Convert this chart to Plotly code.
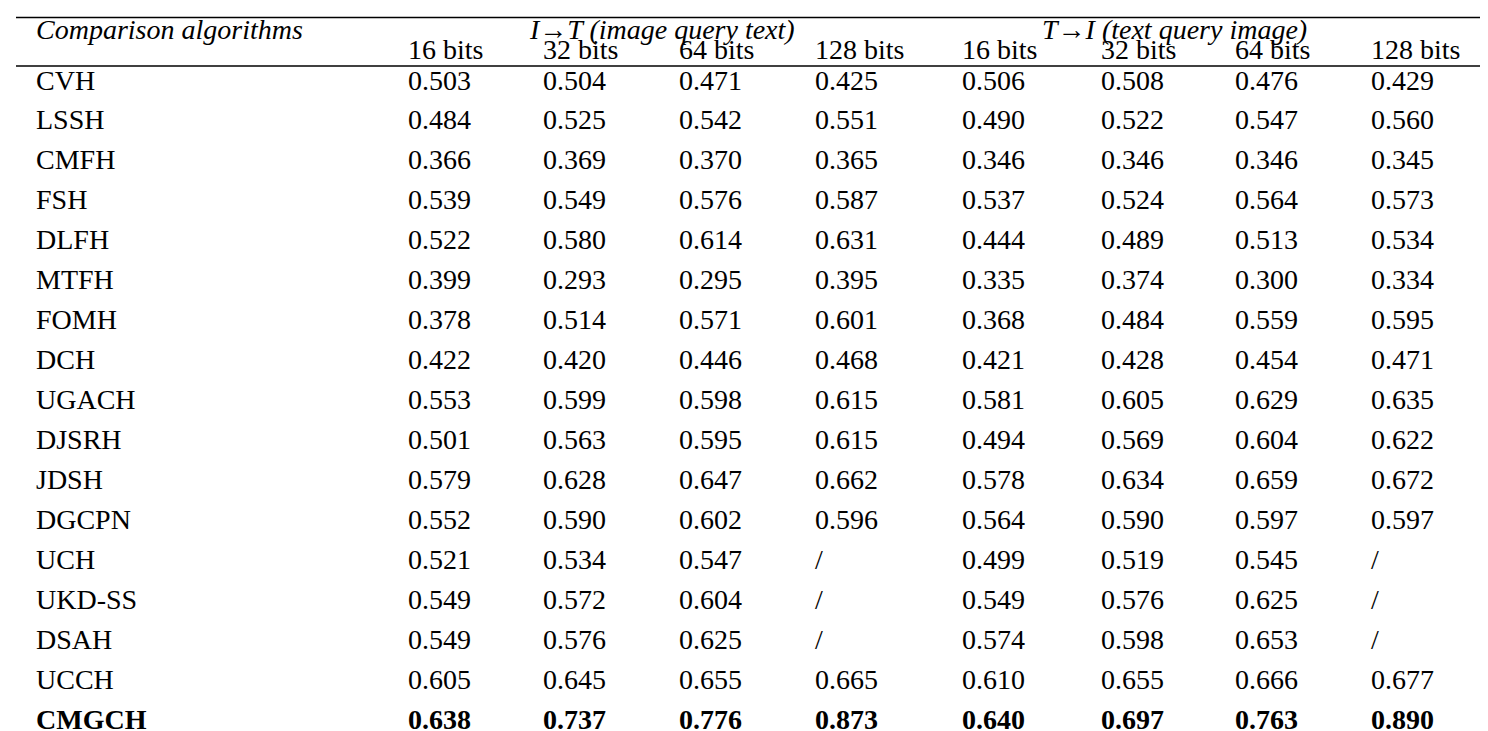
import plotly.graph_objects as go

# Table data
methods = ["CVH", "LSSH", "CMFH", "FSH", "DLFH", "MTFH", "FOMH", "DCH", "UGACH",
           "DJSRH", "JDSH", "DGCPN", "UCH", "UKD-SS", "DSAH", "UCCH", "CMGCH"]
bits = ["16 bits", "32 bits", "64 bits", "128 bits"]
i2t = [
    ["0.503", "0.504", "0.471", "0.425"],
    ["0.484", "0.525", "0.542", "0.551"],
    ["0.366", "0.369", "0.370", "0.365"],
    ["0.539", "0.549", "0.576", "0.587"],
    ["0.522", "0.580", "0.614", "0.631"],
    ["0.399", "0.293", "0.295", "0.395"],
    ["0.378", "0.514", "0.571", "0.601"],
    ["0.422", "0.420", "0.446", "0.468"],
    ["0.553", "0.599", "0.598", "0.615"],
    ["0.501", "0.563", "0.595", "0.615"],
    ["0.579", "0.628", "0.647", "0.662"],
    ["0.552", "0.590", "0.602", "0.596"],
    ["0.521", "0.534", "0.547", "/"],
    ["0.549", "0.572", "0.604", "/"],
    ["0.549", "0.576", "0.625", "/"],
    ["0.605", "0.645", "0.655", "0.665"],
    ["0.638", "0.737", "0.776", "0.873"],
]
t2i = [
    ["0.506", "0.508", "0.476", "0.429"],
    ["0.490", "0.522", "0.547", "0.560"],
    ["0.346", "0.346", "0.346", "0.345"],
    ["0.537", "0.524", "0.564", "0.573"],
    ["0.444", "0.489", "0.513", "0.534"],
    ["0.335", "0.374", "0.300", "0.334"],
    ["0.368", "0.484", "0.559", "0.595"],
    ["0.421", "0.428", "0.454", "0.471"],
    ["0.581", "0.605", "0.629", "0.635"],
    ["0.494", "0.569", "0.604", "0.622"],
    ["0.578", "0.634", "0.659", "0.672"],
    ["0.564", "0.590", "0.597", "0.597"],
    ["0.499", "0.519", "0.545", "/"],
    ["0.549", "0.576", "0.625", "/"],
    ["0.574", "0.598", "0.653", "/"],
    ["0.610", "0.655", "0.666", "0.677"],
    ["0.640", "0.697", "0.763", "0.890"],
]

FONT = "Liberation Serif"
SIZE = 28
col_x = [390, 525, 661, 797, 944, 1083, 1217, 1353]
row_y0, row_step = 64, 39.94

fig = go.Figure()
ann = []

def cell(x, y, text, bold=False, italic=False, anchor="left"):
    if bold:
        text = "<b>" + text + "</b>"
    if italic:
        text = "<i>" + text + "</i>"
    ann.append(dict(x=x, y=y, text=text, showarrow=False, xanchor=anchor, yanchor="middle",
                    font=dict(family=FONT, size=SIZE, color="black")))

# headers
cell(18, 13, "Comparison algorithms", italic=True)
cell(646, 13, "I→T (image query text)", italic=True, anchor="center")
cell(1158, 13, "T→I (text query image)", italic=True, anchor="center")
for j, b in enumerate(bits + bits):
    cell(col_x[j], 33, b)

# body
for i, m in enumerate(methods):
    y = row_y0 + i * row_step
    last = i == len(methods) - 1
    cell(18, y, m, bold=last)
    for j, v in enumerate(i2t[i] + t2i[i]):
        cell(col_x[j], y, v, bold=last)

fig.update_layout(annotations=ann)

for y, w in [(1.5, 1.5), (50, 1.5), (727, 2)]:
    fig.add_shape(type="line", x0=0, x1=1488, y0=y, y1=y, line=dict(color="black", width=w))

# page body has an 8px margin, so shift ranges to make data coords equal screen pixels
fig.update_layout(
    width=1488, height=731,
    margin=dict(l=0, r=0, t=0, b=0),
    plot_bgcolor="white", paper_bgcolor="white",
    xaxis=dict(range=[-8, 1480], visible=False, fixedrange=True),
    yaxis=dict(range=[723, -8], visible=False, fixedrange=True),
    showlegend=False,
)

fig.write_html("out.html", config={"displayModeBar": False})
